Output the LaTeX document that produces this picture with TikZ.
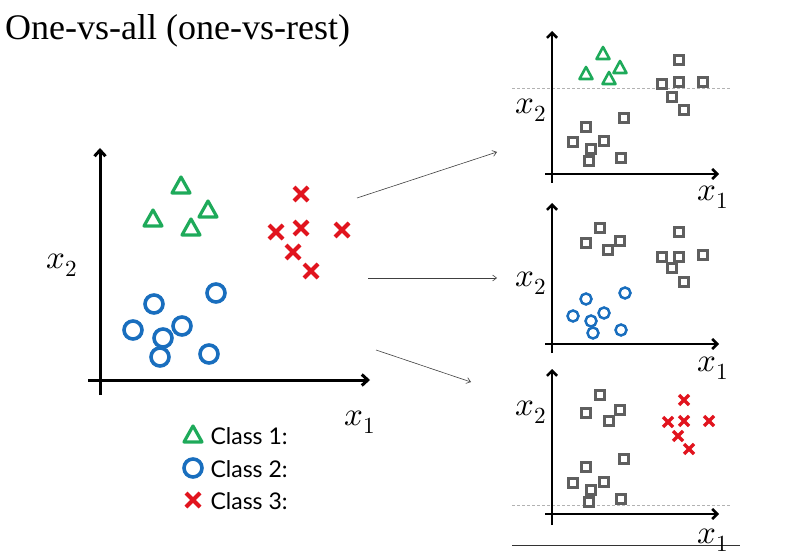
\documentclass[tikz,border=0pt]{standalone}
\usepackage{fontspec}
\usepackage{unicode-math}
\setmathfont{Latin Modern Math}
\setmainfont{Liberation Serif}
\newfontfamily\legfont{Lato}
\usetikzlibrary{arrows.meta}
\definecolor{cg}{RGB}{30,170,90}
\definecolor{cb}{RGB}{25,110,190}
\definecolor{cr}{RGB}{225,20,30}
\definecolor{sq}{RGB}{95,95,95}
\tikzset{
 axis/.style={line width=3pt,-{Straight Barb[length=6pt,width=11pt]}},
 saxis/.style={line width=2.6pt,-{Straight Barb[length=5pt,width=10pt]}},
 conn/.style={draw=black!75,line width=0.6pt,-{Straight Barb[length=4pt,width=6pt]}},
 tri/.pic={\draw[cg,line width=3.2pt,line join=round] (-9,7)--(9,7)--(0,-9)--cycle;},
 stri/.pic={\draw[cg,line width=2.6pt,line join=round] (-6.5,5)--(6.5,5)--(0,-7)--cycle;},
 circ/.pic={\draw[cb,line width=3.6pt] (0,0) circle (9);},
 scirc/.pic={\draw[cb,line width=2.5pt] (0,0) circle (5.5);},
 crs/.pic={\draw[cr,line width=4pt] (-7,-7)--(7,7) (-7,7)--(7,-7);},
 scrs/.pic={\draw[cr,line width=3.2pt] (-5,-5)--(5,5) (-5,5)--(5,-5);},
 sqr/.pic={\draw[sq,line width=2.5pt] (-4.5,-4.5) rectangle (4.5,4.5);},
 lab/.style={inner sep=0pt,font=\fontsize{33}{33}\selectfont},
 leg/.style={anchor=west,font=\legfont\fontsize{23}{23}\selectfont},
}
\begin{document}
\begin{tikzpicture}[x=1pt,y=-1pt]
\useasboundingbox (0,0) rectangle (787,553);
\node[anchor=base west,font=\fontsize{36}{36}\selectfont,inner sep=0pt] (title) at (5,40) {One-vs-all (one-vs-rest)};
% left panel
\coordinate (ly0) at (100,395); \coordinate (ly1) at (100,148);
\coordinate (lx0) at (88,380); \coordinate (lx1) at (370,380);
\draw[axis] (ly0)--(ly1); \draw[axis] (lx0)--(lx1);
\node[lab] (lx2) at (62,265) {$x_2$};
\node[lab] (lxl) at (360,422) {$x_1$};
\foreach \p in {(181,186),(153,219),(208,210),(191,228)} \pic at \p {tri};
\foreach \p in {(154,304),(133,330),(163,338),(182,326),(160,357),(216,293),(209,354)} \pic at \p {circ};
\foreach \p in {(301,194),(301,228),(276,232),(342,230),(293,252),(311,271)} \pic at \p {crs};
% legend
\pic at (193,435) {tri}; \pic at (193,468) {circ}; \pic at (193,500) {crs};
\node[leg] (l1) at (207,436) {Class 1:};
\node[leg] (l2) at (207,469) {Class 2:};
\node[leg] (l3) at (207,501) {Class 3:};
% arrows
\coordinate (a1) at (357,198); \coordinate (b1) at (497,152);
\coordinate (a2) at (368,278); \coordinate (b2) at (497,278);
\coordinate (a3) at (376,350); \coordinate (b3) at (471,382);
\draw[conn] (a1)--(b1); \draw[conn] (a2)--(b2); \draw[conn] (a3)--(b3);
% panel 1
\draw[densely dashed,black!30,line width=0.4pt] (512,88)--(730,88);
\draw[saxis] (552,183)--(552,31); \draw[saxis] (545,174)--(719,174);
\node[lab] (p1y) at (531,110) {$x_2$};
\node[lab] (p1x) at (713,197) {$x_1$};
\foreach \p in {(603,54),(586,74),(620,68),(609,79)} \pic at \p {stri};
\foreach \p in {(679,60),(679,82),(662,84),(703,82),(672,97),(684,110),(624,118),(586,127),(573,142),(604,141),(591,149),(589,161),(621,158)} \pic at \p {sqr};
% panel 2
\draw[saxis] (552,353)--(552,203); \draw[saxis] (545,344)--(719,344);
\node[lab] (p2y) at (531,283) {$x_2$};
\node[lab] (p2x) at (713,368) {$x_1$};
\foreach \p in {(600,228),(586,243),(620,241),(608,250),(679,232),(662,257),(679,257),(703,255),(672,268),(684,282)} \pic at \p {sqr};
\foreach \p in {(586,299),(573,316),(604,313),(591,321),(593,333),(621,330),(625,293)} \pic at \p {scirc};
% panel 3
\draw[densely dashed,black!30,line width=0.4pt] (512,505)--(730,505);
\draw[black!80,line width=0.6pt] (512,545)--(740,545);
\draw[saxis] (552,525)--(552,369); \draw[saxis] (545,514)--(719,514);
\node[lab] (p3y) at (531,412) {$x_2$};
\node[lab] (p3x) at (713,540) {$x_1$};
\foreach \p in {(600,395),(586,413),(620,410),(609,421),(624,459),(586,467),(573,483),(604,482),(591,490),(589,502),(621,499)} \pic at \p {sqr};
\foreach \p in {(684,400),(684,421),(668,422),(709,421),(678,436),(689,449)} \pic at \p {scrs};
\end{tikzpicture}
\end{document}
